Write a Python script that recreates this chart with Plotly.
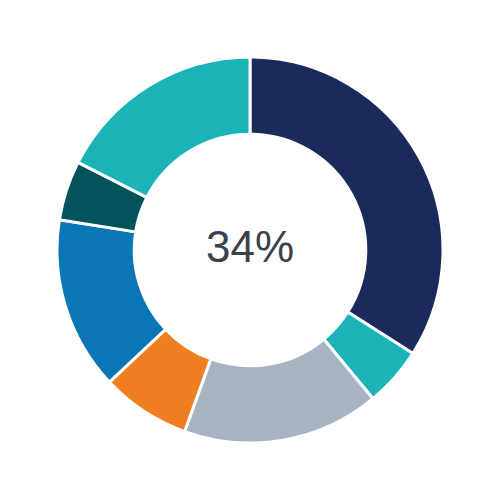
import plotly.graph_objects as go

# slice values (percent), clockwise from 12 o'clock
labels = ["A", "B", "C", "D", "E", "F", "G"]
values = [34, 5, 16.5, 7.5, 14.5, 5, 17.5]
colors = ["#1b2a5c", "#1ab4b8", "#a8b3c2", "#f07f22", "#0a76b6", "#03545a", "#1ab4b8"]
center_text = "34%"

fig = go.Figure(go.Pie(
    labels=labels,
    values=values,
    hole=0.6,
    sort=False,
    direction="clockwise",
    rotation=0,
    textinfo="none",
    hoverinfo="label+percent",
    marker=dict(colors=colors, line=dict(color="white", width=3)),
))

fig.add_annotation(
    text=center_text, x=0.5, y=0.5, xref="paper", yref="paper", yshift=4,
    showarrow=False, font=dict(family="Liberation Sans, Arial", size=44, color="#3a414d"),
)

# page body adds ~8px offset, so margins are shifted to keep the ring centred
fig.update_layout(
    width=500, height=500,
    margin=dict(l=49, r=65, t=49, b=65),
    showlegend=False,
    paper_bgcolor="white",
    plot_bgcolor="white",
)

fig.write_html("out.html")
